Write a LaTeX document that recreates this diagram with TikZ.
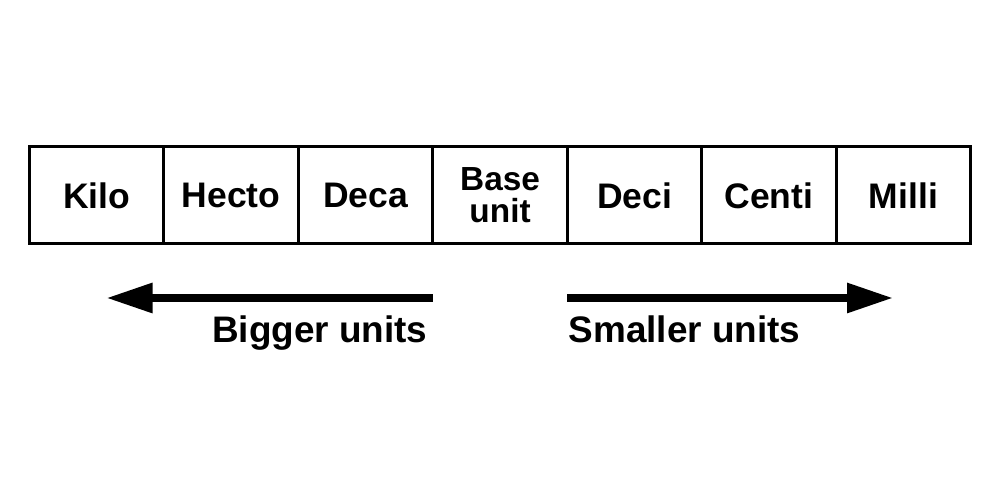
\documentclass[tikz,border=0pt]{standalone}
\usepackage{fontspec}
\setmainfont{Liberation Sans}
\usepackage{tikz}
\usetikzlibrary{arrows.meta, positioning}

\begin{document}
\begin{tikzpicture}[
    cell/.style={rectangle, draw, line width=1.7pt, minimum width=2.689cm, minimum height=1.94cm, inner sep=0pt, outer sep=0pt, align=center, font=\bfseries\fontsize{20.2}{18.1}\selectfont},
    unitlabel/.style={inner sep=0pt, font=\bfseries\fontsize{21}{24}\selectfont},
    arrow/.style={-{Triangle[length=0.92cm, width=0.57cm]}, line width=4.3pt}
]
\useasboundingbox (0,0) rectangle (20,10);
\node[cell] (kilo) at (1.934,6.09) {Kilo};
\node[cell, right=0pt of kilo] (hecto) {Hecto};
\node[cell, right=0pt of hecto] (deca) {Deca};
\node[cell, right=0pt of deca, font=\bfseries\fontsize{19}{18.2}\selectfont] (base) {Base\\unit};
\node[cell, right=0pt of base] (deci) {Deci};
\node[cell, right=0pt of deci] (centi) {Centi};
\node[cell, right=0pt of centi] (milli) {Milli};
\coordinate[below=1.08cm of base.south west] (bigtail);
\coordinate[below=1.08cm of base.south east] (smalltail);
\coordinate (bigtip) at (2.13,4.04);
\coordinate (smalltip) at (17.86,4.04);
\draw[arrow] (bigtail) -- (bigtip);
\draw[arrow] (smalltail) -- (smalltip);
\node[unitlabel, below left=0.9cm and 0.1cm of bigtail, anchor=base east] (bigger) {Bigger units};
\node[unitlabel, below right=0.9cm and 0.02cm of smalltail, anchor=base west] (smaller) {Smaller units};
\end{tikzpicture}
\end{document}
